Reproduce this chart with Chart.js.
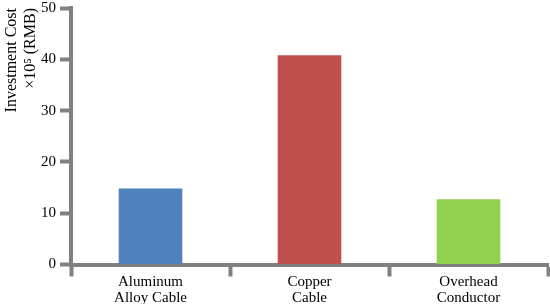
<!DOCTYPE html>
<html>
<head>
<meta charset="utf-8">
<script src="https://cdn.jsdelivr.net/npm/chart.js@4/dist/chart.umd.min.js"></script>
<style>
    html, body { margin: 0; padding: 0; background: #fff; }
    #wrap { width: 550px; height: 304px; position: relative; }
</style>
</head>
<body>
<div id="wrap"><canvas id="c"></canvas></div>
<script>
const categories = [['Aluminum', 'Alloy Cable'], ['Copper', 'Cable'], ['Overhead', 'Conductor']];
const costs = [14.8, 40.8, 12.7];
const barColors = ['#4f81bd', '#c0504d', '#92d050'];
const yTicks = [0, 10, 20, 30, 40, 50];

const axisGray = '#808080';
const family = '"Liberation Serif", "Times New Roman", serif';

new Chart(document.getElementById('c'), {
    type: 'bar',
    data: {
        labels: categories,
        datasets: [{
            data: costs,
            backgroundColor: barColors,
            borderWidth: 0,
            barPercentage: 0.4,
            categoryPercentage: 1
        }]
    },
    options: {
        responsive: true,
        maintainAspectRatio: false,
        animation: false,
        layout: { padding: { top: 8, right: 2, left: 0, bottom: 0 } },
        plugins: { legend: { display: false }, tooltip: { enabled: false } },
        scales: {
            x: {
                grid: {
                    offset: true,
                    drawOnChartArea: false,
                    drawTicks: true,
                    tickLength: 12,
                    tickWidth: 4,
                    tickColor: axisGray
                },
                border: { display: true, color: axisGray, width: 4 },
                ticks: { color: '#000', font: { family, size: 15, lineHeight: 1.05 }, padding: -2, maxRotation: 0 }
            },
            y: {
                min: 0,
                max: 50,
                afterBuildTicks: s => { s.ticks = yTicks.map(v => ({ value: v })); },
                afterFit: s => { s.width = 71; s.paddingTop = 0; s.paddingBottom = 0; },
                grid: {
                    drawOnChartArea: false,
                    drawTicks: true,
                    tickLength: 11,
                    tickWidth: 4,
                    tickColor: axisGray
                },
                border: { display: true, color: axisGray, width: 4 },
                ticks: { color: '#000', font: { family, size: 15 }, padding: 4 },
                title: {
                    display: true,
                    align: 'end',
                    text: ['Investment Cost', '×10⁵ (RMB)'],
                    color: '#000',
                    font: { family, size: 16, lineHeight: 1.15 },
                    padding: { top: 3, bottom: 2 }
                }
            }
        }
    }
});
</script>
</body>
</html>
